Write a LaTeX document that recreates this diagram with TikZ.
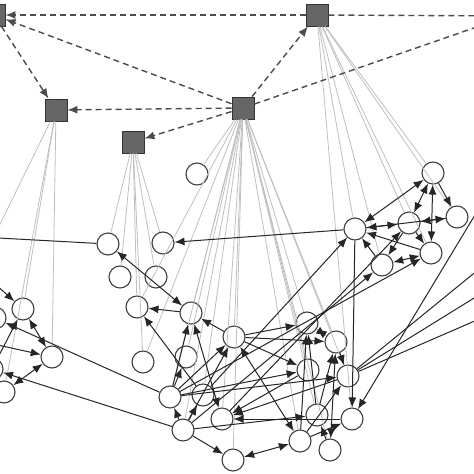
\documentclass[tikz,border=0pt]{standalone}
\usetikzlibrary{arrows.meta}
\begin{document}
\begin{tikzpicture}[x=1pt,y=-1pt,
  cnode/.style={circle,draw=black!75,fill=white,line width=1.1pt,minimum size=22pt,inner sep=0pt},
  snode/.style={rectangle,draw=black!80,fill=black!60,line width=0.9pt,minimum size=22pt,inner sep=0pt},
  memb/.style={draw=black!25,line width=0.8pt},
  dlink/.style={draw=black!70,line width=1.4pt,dash pattern=on 6pt off 4pt,-{Latex[length=10pt,width=8pt]}},
  dline/.style={draw=black!70,line width=1.4pt,dash pattern=on 6pt off 4pt},
  lnk/.style={draw=black!85,line width=1pt,-{Latex[length=10pt,width=8pt]}},
  blnk/.style={draw=black!85,line width=1pt,{Latex[length=10pt,width=8pt]}-{Latex[length=10pt,width=8pt]}},
  pln/.style={draw=black!85,line width=1pt}]
\useasboundingbox (0,0) rectangle (474,474);
\fill[white] (0,0) rectangle (474,474);
% squares
\node[snode] (S1) at (-6,15) {};
\node[snode] (S2) at (317,15) {};
\node[snode] (S3) at (243,108) {};
\node[snode] (S4) at (56,110) {};
\node[snode] (S5) at (133,142) {};
% circles
\node[cnode] (c1) at (197,174) {};
\node[cnode] (c2) at (108,244) {};
\node[cnode] (c3) at (163,243) {};
\node[cnode] (c4) at (120,277) {};
\node[cnode] (c5) at (156,277) {};
\node[cnode] (c6) at (137,307) {};
\node[cnode] (c7) at (191,313) {};
\node[cnode] (c8) at (234,337) {};
\node[cnode] (c9) at (186,357) {};
\node[cnode] (c10) at (143,362) {};
\node[cnode] (c11) at (23,309) {};
\node[cnode] (c12) at (52,357) {};
\node[cnode] (c13) at (4,392) {};
\node[cnode] (c14) at (170,397) {};
\node[cnode] (c15) at (203,395) {};
\node[cnode] (c16) at (222,419) {};
\node[cnode] (c17) at (183,430) {};
\node[cnode] (c18) at (233,460) {};
\node[cnode] (c19) at (307,323) {};
\node[cnode] (c20) at (336,342) {};
\node[cnode] (c21) at (308,370) {};
\node[cnode] (c22) at (348,376) {};
\node[cnode] (c23) at (317,415) {};
\node[cnode] (c24) at (352,419) {};
\node[cnode] (c25) at (300,441) {};
\node[cnode] (c26) at (330,450) {};
\node[cnode] (c27) at (433,173) {};
\node[cnode] (c28) at (457,217) {};
\node[cnode] (c29) at (409,223) {};
\node[cnode] (c30) at (355,229) {};
\node[cnode] (c31) at (431,253) {};
\node[cnode] (c32) at (382,265) {};
\node[cnode] (L1) at (-5,318) {};
\node[cnode] (L2) at (-8,369) {};
% off-canvas ends
\coordinate (oR0) at (520,16);
\coordinate (oR9) at (520,12);
\coordinate (oR1) at (490,190);
\coordinate (oR2) at (500,252);
\coordinate (oR3) at (500,282);
\coordinate (oR4) at (500,310);
\coordinate (oL0) at (-20,237);
\coordinate (oL1) at (-25,266);
\coordinate (oL2) at (-25,340);
\coordinate (oL3) at (-20,265);
% membership lines
\foreach \t in {c11,c12,c13,oL3} \draw[memb] (S4) -- (\t);
\foreach \t in {c2,c3,c4,c5,c6,c10} \draw[memb] (S5) -- (\t);
\foreach \t in {c1,c6,c7,c8,c9,c10,c14,c15,c16,c17,c18,c19,c20,c21,c22,c23,c25,c26} \draw[memb] (S3) -- (\t);
\foreach \t in {c27,c28,c29,c30,c31,c32,c24} \draw[memb] (S2) -- (\t);
% dashed links
\draw[dlink] (S2) -- (S1);
\draw[dlink] (S3) -- (S1);
\draw[dlink] (S1) -- (S4);
\draw[dlink] (S3) -- (S4);
\draw[dlink] (S3) -- (S5);
\draw[dlink] (S3) -- (S2);
\draw[dline] (S2) -- (oR0);
\draw[dline] (S3) -- (oR9);
% upper-right cluster
\draw[blnk] (c27) -- (c30);
\draw[blnk] (c27) -- (c29);
\draw[lnk] (c27) -- (c28);
\draw[blnk] (c27) -- (c31);
\draw[blnk] (c30) -- (c29);
\draw[lnk] (c31) -- (c30);
\draw[lnk] (c32) -- (c30);
\draw[lnk] (c29) -- (c32);
\draw[lnk] (c29) -- (c31);
\draw[blnk] (c31) -- (c32);
\draw[lnk] (c28) -- (c29);
\draw[lnk] (c30) -- (c28);
\draw[lnk] (c30) -- (c3);
\draw[lnk] (c30) -- (c24);
% lower cluster
\draw[blnk] (c2) -- (c7);
\draw[lnk] (c7) -- (c6);
\draw[lnk] (c8) -- (c7);
\draw[lnk] (c14) -- (c7);
\draw[blnk] (c7) -- (c16);
\draw[lnk] (c15) -- (c6);
\draw[lnk] (c14) -- (c9);
\draw[lnk] (c14) -- (c8);
\draw[lnk] (c17) -- (c8);
\draw[blnk] (c8) -- (c25);
\draw[lnk] (c8) -- (c21);
\draw[lnk] (c8) -- (c19);
\draw[lnk] (c8) -- (c20);
\draw[lnk] (c14) -- (c21);
\draw[lnk] (c14) -- (c22);
\draw[lnk] (c17) -- (c14);
\draw[lnk] (c17) -- (c15);
\draw[lnk] (c17) -- (c18);
\draw[blnk] (c18) -- (c25);
\draw[lnk] (c22) -- (c16);
\draw[lnk] (c21) -- (c16);
\draw[lnk] (c24) -- (c16);
\draw[lnk] (c17) -- (c23);
\draw[lnk] (c23) -- (c19);
\draw[lnk] (c25) -- (c19);
\draw[blnk] (c19) -- (c20);
\draw[lnk] (c20) -- (c22);
\draw[blnk] (c20) -- (c26);
\draw[lnk] (c23) -- (c20);
\draw[lnk] (c25) -- (c22);
\draw[lnk] (c25) -- (c24);
\draw[lnk] (c26) -- (c23);
\draw[lnk] (c15) -- (c30);
\draw[lnk] (c16) -- (c29);
\draw[lnk] (c17) -- (c32);
\draw[lnk] (c14) -- (c31);
\draw[lnk] (oR1) -- (c24);
\draw[pln] (c22) -- (oR2);
\draw[pln] (c22) -- (oR3);
\draw[pln] (c22) -- (oR4);
% left cluster
\draw[pln] (c2) -- (oL0);
\draw[lnk] (oL1) -- (c11);
\draw[lnk] (oL2) -- (c12);
\draw[blnk] (c11) -- (c12);
\draw[blnk] (c12) -- (c13);
\draw[lnk] (L2) -- (c11);
\draw[lnk] (c17) -- (L2);
\draw[lnk] (c14) -- (L1);
\end{tikzpicture}
\end{document}
